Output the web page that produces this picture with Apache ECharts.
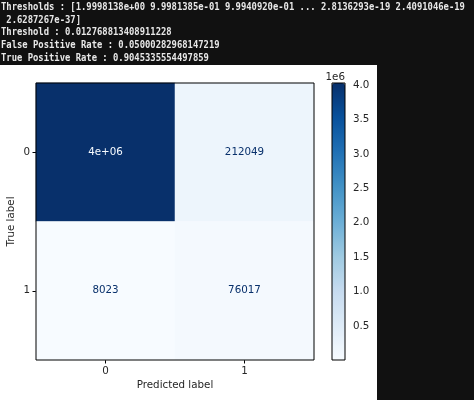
<!DOCTYPE html>
<html>
<head>
<meta charset="utf-8">
<script src="https://cdn.jsdelivr.net/npm/echarts@6/dist/echarts.min.js"></script>
<style>
html,body{margin:0;padding:0;background:#111111;}
#chart{width:474px;height:400px;}
</style>
</head>
<body>
<div id="chart"></div>
<script>
// ---- data ----
const predictedLabels = ['0', '1'];
const trueLabels = ['0', '1'];
// rows = true label, cols = predicted label
const matrixRow0 = [4028691, 212049];
const matrixRow1 = [8023, 76017];
const colorbarTicks = [500000, 1000000, 1500000, 2000000, 2500000, 3000000, 3500000, 4000000];
const consoleLines = [
  'Thresholds : [1.9998138e+00 9.9981385e-01 9.9940920e-01 ... 2.8136293e-19 2.4091046e-19',
  ' 2.6287267e-37]',
  'Threshold : 0.012768813408911228',
  'False Positive Rate : 0.05000282968147219',
  'True Positive Rate : 0.9045335554497859'
];
const bluesStops = ['#f7fbff','#deebf7','#c6dbef','#9ecae1','#6baed6','#4292c6','#2171b5','#08519c','#08306b'];

const matrix = [matrixRow0, matrixRow1];
const allVals = matrixRow0.concat(matrixRow1);
const vMin = Math.min.apply(null, allVals);
const vMax = Math.max.apply(null, allVals);

function fmtG2(v) {
  if (v === 0) return '0';
  const e = Math.floor(Math.log10(Math.abs(v)));
  if (e < -4 || e >= 2) {
    let m = v / Math.pow(10, e);
    let mr = parseFloat(m.toPrecision(2));
    let ee = e;
    if (Math.abs(mr) >= 10) { mr = mr / 10; ee += 1; }
    const ms = String(mr);
    const sign = ee < 0 ? '-' : '+';
    const ae = Math.abs(ee);
    return ms + 'e' + sign + (ae < 10 ? '0' + ae : String(ae));
  }
  return String(parseFloat(v.toPrecision(2)));
}
function cellText(v) {
  const g = fmtG2(v);
  const d = String(Math.round(v));
  return d.length < g.length ? d : g;
}

const thresh = (vMin + vMax) / 2;
const heatData = [];
for (let r = 0; r < trueLabels.length; r++) {
  for (let c = 0; c < predictedLabels.length; c++) {
    const v = matrix[r][c];
    heatData.push({
      value: [c, r, v],
      label: { color: v > thresh ? bluesStops[0] : bluesStops[8] }
    });
  }
}

const FONT = 'DejaVu Sans';
const FS = 10.3;
const TXT = '#262626';

const graphics = [
  { type: 'rect', shape: { x: 0, y: 65, width: 377, height: 335 }, style: { fill: '#ffffff' }, z: -10 },
  { type: 'text', x: 345, y: 77, style: { text: '1e6', fill: TXT, font: FS + 'px "DejaVu Sans"', align: 'right', verticalAlign: 'middle' }, z: 10 }
];
consoleLines.forEach(function (t, i) {
  graphics.push({
    type: 'text',
    x: 1, y: 7 + i * 12.8,
    scaleX: 0.836,
    style: {
      text: t, fill: '#e8e8e8',
      font: 'bold 10.6px "DejaVu Sans Mono"',
      verticalAlign: 'middle', align: 'left'
    },
    z: 10
  });
});

const chart = echarts.init(document.getElementById('chart'), null, { renderer: 'canvas' });
chart.setOption({
  backgroundColor: '#111111',
  animation: false,
  graphic: graphics,
  grid: [
    { left: 36, top: 83, width: 278, height: 277, show: true, borderColor: '#000', borderWidth: 1, backgroundColor: 'transparent', z: 5, containLabel: false, outerBoundsMode: 'none' },
    { left: 332, top: 83, width: 13, height: 277, show: true, borderColor: '#000', borderWidth: 1, backgroundColor: 'transparent', z: 5, containLabel: false, outerBoundsMode: 'none' }
  ],
  xAxis: [
    {
      type: 'category', gridIndex: 0, data: predictedLabels,
      name: 'Predicted label', nameLocation: 'middle', nameGap: 20, nameMoveOverlap: false,
      nameTextStyle: { fontFamily: FONT, fontSize: FS, color: TXT },
      axisLine: { show: false },
      axisTick: { show: true, alignWithLabel: true, length: 3.5, lineStyle: { color: '#000' } },
      axisLabel: { fontFamily: FONT, fontSize: FS, color: TXT, margin: 6 },
      splitLine: { show: false }
    },
    {
      type: 'value', gridIndex: 1, show: false, min: 0, max: 1
    }
  ],
  yAxis: [
    {
      type: 'category', gridIndex: 0, data: trueLabels, inverse: true,
      name: 'True label', nameLocation: 'middle', nameGap: 20, nameRotate: 90, nameMoveOverlap: false,
      nameTextStyle: { fontFamily: FONT, fontSize: FS, color: TXT },
      axisLine: { show: false },
      axisTick: { show: true, alignWithLabel: true, length: 3.5, lineStyle: { color: '#000' } },
      axisLabel: { fontFamily: FONT, fontSize: FS, color: TXT, margin: 6 },
      splitLine: { show: false }
    },
    {
      type: 'value', gridIndex: 1, position: 'right', min: vMin, max: vMax,
      axisLine: { show: false },
      axisTick: { show: true, length: 3.5, customValues: colorbarTicks, lineStyle: { color: '#000' } },
      axisLabel: {
        fontFamily: FONT, fontSize: FS, color: TXT, margin: 8,
        customValues: colorbarTicks,
        formatter: function (v) { return (v / 1e6).toFixed(1); }
      },
      splitLine: { show: false }
    }
  ],
  visualMap: {
    type: 'continuous', seriesIndex: 0, min: vMin, max: vMax,
    calculable: false, show: true, orient: 'vertical',
    left: 332, top: 83, itemWidth: 13, itemHeight: 277, padding: 0,
    text: null, showLabel: false,
    inRange: { color: bluesStops }
  },
  series: [
    {
      type: 'heatmap', xAxisIndex: 0, yAxisIndex: 0, data: heatData,
      label: { show: true, fontFamily: FONT, fontSize: FS, formatter: function (p) { return cellText(p.value[2]); } },
      emphasis: { disabled: true }
    }
  ]
});
</script>
</body>
</html>
